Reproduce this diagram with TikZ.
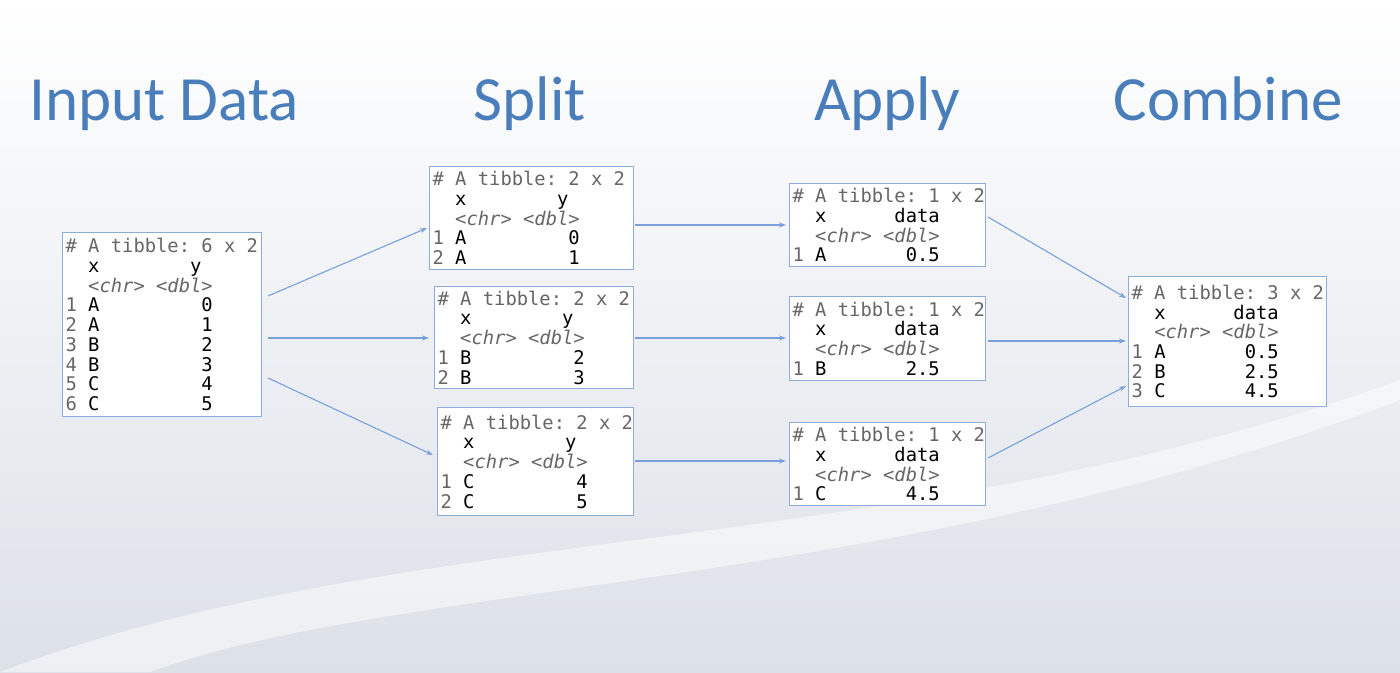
\documentclass[tikz,border=0pt]{standalone}
\usepackage{fontspec}
\setmainfont{Carlito}
\setmonofont{DejaVu Sans Mono}
\usetikzlibrary{arrows.meta}
\definecolor{ttl}{HTML}{4A7EBB}
\definecolor{bx}{HTML}{8FAADC}
\definecolor{arr}{HTML}{7B9FDB}
\definecolor{gr}{HTML}{666666}
\definecolor{bgb}{HTML}{DCE1E8}
\newcommand{\cm}[1]{\textcolor{gr}{#1}}
\newcommand{\ty}{~~\textcolor{gr}{\itshape <chr>~<dbl>}}
\begin{document}
\def~{\hphantom{0}}
\begin{tikzpicture}[x=1pt,y=-1pt,
  title/.style={font=\fontsize{63}{70}\selectfont, text=ttl, anchor=base},
  tb/.style={draw=bx, line width=1.2pt, fill=white, anchor=north west, inner sep=3pt,
    align=left, font=\ttfamily\fontsize{18.8}{19.7}\selectfont},
  ar/.style={draw=arr, line width=1.1pt, -{Stealth[length=7pt,width=5pt]}}]
\shade[top color=white, bottom color=bgb] (0,0) rectangle (1400,672);
\useasboundingbox (0,0) rectangle (1400,672);
\fill[white, opacity=0.5] (0,672) .. controls (400,520) and (900,560) .. (1400,380) -- (1400,400) .. controls (900,590) and (400,580) .. (150,672) -- cycle;
\node[title] (h1) at (164,120) {Input Data};
\node[title] (h2) at (530,120) {Split};
\node[title] (h3) at (887,120) {Apply};
\node[title] (h4) at (1228,120) {Combine};

\node[tb, minimum width=199pt, minimum height=184pt, text width=193pt] (t1) at (62,232) {%
\cm{\#~A~tibble:~6~x~2}\\~~x~~~~~~~~y\\\ty\\\cm{1}~A~~~~~~~~~0\\\cm{2}~A~~~~~~~~~1\\\cm{3}~B~~~~~~~~~2\\\cm{4}~B~~~~~~~~~3\\\cm{5}~C~~~~~~~~~4\\\cm{6}~C~~~~~~~~~5};

\node[tb, minimum width=204pt, minimum height=103pt, text width=198pt] (s1) at (429,166) {%
\cm{\#~A~tibble:~2~x~2}\\~~x~~~~~~~~y\\\ty\\\cm{1}~A~~~~~~~~~0\\\cm{2}~A~~~~~~~~~1};
\node[tb, minimum width=199pt, minimum height=102pt, text width=193pt] (s2) at (434,286) {%
\cm{\#~A~tibble:~2~x~2}\\~~x~~~~~~~~y\\\ty\\\cm{1}~B~~~~~~~~~2\\\cm{2}~B~~~~~~~~~3};
\node[tb, minimum width=196pt, minimum height=108pt, text width=190pt] (s3) at (437,407) {%
\cm{\#~A~tibble:~2~x~2}\\~~x~~~~~~~~y\\\ty\\\cm{1}~C~~~~~~~~~4\\\cm{2}~C~~~~~~~~~5};

\node[tb, minimum width=196pt, minimum height=83pt, text width=190pt] (a1) at (789,183) {%
\cm{\#~A~tibble:~1~x~2}\\~~x~~~~~~data\\\ty\\\cm{1}~A~~~~~~~0.5};
\node[tb, minimum width=196pt, minimum height=84pt, text width=190pt] (a2) at (789,296) {%
\cm{\#~A~tibble:~1~x~2}\\~~x~~~~~~data\\\ty\\\cm{1}~B~~~~~~~2.5};
\node[tb, minimum width=196pt, minimum height=83pt, text width=190pt] (a3) at (789,422) {%
\cm{\#~A~tibble:~1~x~2}\\~~x~~~~~~data\\\ty\\\cm{1}~C~~~~~~~4.5};

\node[tb, minimum width=198pt, minimum height=130pt, text width=192pt] (c1) at (1128,276) {%
\cm{\#~A~tibble:~3~x~2}\\~~x~~~~~~data\\\ty\\\cm{1}~A~~~~~~~0.5\\\cm{2}~B~~~~~~~2.5\\\cm{3}~C~~~~~~~4.5};

\coordinate (p1) at (268,296); \coordinate (q1) at (427,228);
\coordinate (p2) at (268,338); \coordinate (q2) at (429,338);
\coordinate (p3) at (268,378); \coordinate (q3) at (433,455);
\draw[ar] (p1) -- (q1);
\draw[ar] (p2) -- (q2);
\draw[ar] (p3) -- (q3);
\coordinate (r1) at (635,225); \coordinate (u1) at (786,225);
\coordinate (r2) at (635,338); \coordinate (u2) at (786,338);
\coordinate (r3) at (635,461); \coordinate (u3) at (786,461);
\draw[ar] (r1) -- (u1);
\draw[ar] (r2) -- (u2);
\draw[ar] (r3) -- (u3);
\coordinate (v1) at (988,217); \coordinate (w1) at (1126,298);
\coordinate (v2) at (988,341); \coordinate (w2) at (1126,341);
\coordinate (v3) at (988,458); \coordinate (w3) at (1126,386);
\draw[ar] (v1) -- (w1);
\draw[ar] (v2) -- (w2);
\draw[ar] (v3) -- (w3);
\end{tikzpicture}
\end{document}
